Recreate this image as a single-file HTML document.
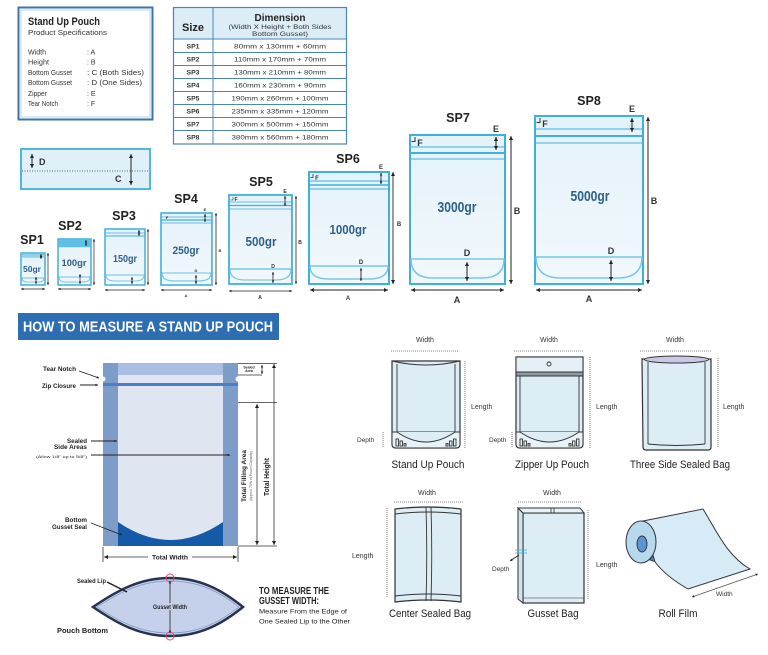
<!DOCTYPE html>
<html><head><meta charset="utf-8"><style>
html,body{margin:0;padding:0;background:#fff;}
svg{display:block;}
text{font-family:"Liberation Sans",Arial,sans-serif;}
</style></head><body>
<svg width="768" height="655" viewBox="0 0 768 655" xmlns="http://www.w3.org/2000/svg">
<defs>
<marker id="a" viewBox="0 0 10 10" refX="10" refY="5" markerWidth="4" markerHeight="4" markerUnits="userSpaceOnUse" orient="auto-start-reverse"><path d="M0,0 L10,5 L0,10 z" fill="#222"/></marker>
<marker id="s" viewBox="0 0 10 10" refX="10" refY="5" markerWidth="2.5" markerHeight="2.5" markerUnits="userSpaceOnUse" orient="auto-start-reverse"><path d="M0,0 L10,5 L0,10 z" fill="#222"/></marker>
<linearGradient id="pg" x1="0" y1="0" x2="0" y2="1"><stop offset="0" stop-color="#e4f2f9"/><stop offset="1" stop-color="#f1f8fc"/></linearGradient>
</defs>

<!-- Spec box -->
<rect x="18.5" y="7.5" width="134" height="112" fill="#fff" stroke="#3e74a6" stroke-width="2"/>
<rect x="21" y="10" width="129" height="107" fill="none" stroke="#b8d3e6" stroke-width="1"/>
<text x="28" y="25" font-size="11" font-weight="bold" fill="#222" textLength="72" lengthAdjust="spacingAndGlyphs">Stand Up Pouch</text>
<text x="28" y="35" font-size="7.5" fill="#333" textLength="79" lengthAdjust="spacingAndGlyphs">Product Specifications</text>
<g font-size="7" fill="#333">
<text x="28" y="54.5" textLength="18" lengthAdjust="spacingAndGlyphs">Width</text><text x="87" y="54.5">: A</text>
<text x="28" y="64.5" textLength="21" lengthAdjust="spacingAndGlyphs">Height</text><text x="87" y="64.5">: B</text>
<text x="28" y="75" textLength="44" lengthAdjust="spacingAndGlyphs">Bottom Gusset</text><text x="87" y="75" textLength="57" lengthAdjust="spacingAndGlyphs">: C (Both Sides)</text>
<text x="28" y="85" textLength="44" lengthAdjust="spacingAndGlyphs">Bottom Gusset</text><text x="87" y="85" textLength="55" lengthAdjust="spacingAndGlyphs">: D (One Sides)</text>
<text x="28" y="96" textLength="19" lengthAdjust="spacingAndGlyphs">Zipper</text><text x="87" y="96">: E</text>
<text x="28" y="106" textLength="30" lengthAdjust="spacingAndGlyphs">Tear Notch</text><text x="87" y="106">: F</text>
</g>

<!-- Table -->
<rect x="173" y="7" width="174" height="32" fill="#dcedf7"/>
<rect x="173.5" y="7.5" width="173" height="136.5" fill="none" stroke="#4a86b4" stroke-width="1.2"/>
<g stroke="#4a86b4" stroke-width="1">
<line x1="213" y1="7" x2="213" y2="144"/>
<line x1="173" y1="39" x2="347" y2="39"/>
<line x1="173" y1="52.5" x2="347" y2="52.5"/>
<line x1="173" y1="65.5" x2="347" y2="65.5"/>
<line x1="173" y1="78.5" x2="347" y2="78.5"/>
<line x1="173" y1="91.5" x2="347" y2="91.5"/>
<line x1="173" y1="104.5" x2="347" y2="104.5"/>
<line x1="173" y1="117.5" x2="347" y2="117.5"/>
<line x1="173" y1="130.5" x2="347" y2="130.5"/>
</g>
<text x="193" y="31" font-size="11" font-weight="bold" fill="#222" text-anchor="middle">Size</text>
<text x="280" y="21" font-size="10" font-weight="bold" fill="#222" text-anchor="middle" textLength="51" lengthAdjust="spacingAndGlyphs">Dimension</text>
<text x="280" y="29" font-size="6.5" fill="#333" text-anchor="middle" textLength="103" lengthAdjust="spacingAndGlyphs">(Width X Height + Both Sides</text>
<text x="280" y="36" font-size="6.5" fill="#333" text-anchor="middle" textLength="56" lengthAdjust="spacingAndGlyphs">Bottom Gusset)</text>
<g font-size="6.5" fill="#333" text-anchor="middle">
<text x="193" y="48.5" font-weight="bold" textLength="13" lengthAdjust="spacingAndGlyphs">SP1</text><text x="280" y="48.5" textLength="92" lengthAdjust="spacingAndGlyphs">80mm x 130mm + 60mm</text>
<text x="193" y="61.5" font-weight="bold" textLength="13" lengthAdjust="spacingAndGlyphs">SP2</text><text x="280" y="61.5" textLength="92" lengthAdjust="spacingAndGlyphs">110mm x 170mm + 70mm</text>
<text x="193" y="74.5" font-weight="bold" textLength="13" lengthAdjust="spacingAndGlyphs">SP3</text><text x="280" y="74.5" textLength="92" lengthAdjust="spacingAndGlyphs">130mm x 210mm + 80mm</text>
<text x="193" y="87.5" font-weight="bold" textLength="13" lengthAdjust="spacingAndGlyphs">SP4</text><text x="280" y="87.5" textLength="92" lengthAdjust="spacingAndGlyphs">160mm x 230mm + 90mm</text>
<text x="193" y="100.5" font-weight="bold" textLength="13" lengthAdjust="spacingAndGlyphs">SP5</text><text x="280" y="100.5" textLength="97" lengthAdjust="spacingAndGlyphs">190mm x 260mm + 100mm</text>
<text x="193" y="113.5" font-weight="bold" textLength="13" lengthAdjust="spacingAndGlyphs">SP6</text><text x="280" y="113.5" textLength="97" lengthAdjust="spacingAndGlyphs">235mm x 335mm + 120mm</text>
<text x="193" y="126.5" font-weight="bold" textLength="13" lengthAdjust="spacingAndGlyphs">SP7</text><text x="280" y="126.5" textLength="97" lengthAdjust="spacingAndGlyphs">300mm x 500mm + 150mm</text>
<text x="193" y="139.5" font-weight="bold" textLength="13" lengthAdjust="spacingAndGlyphs">SP8</text><text x="280" y="139.5" textLength="97" lengthAdjust="spacingAndGlyphs">380mm x 560mm + 180mm</text>
</g>

<!-- D/C box -->
<rect x="21" y="149" width="129" height="40" fill="#dff0f8" stroke="#4fb6dc" stroke-width="2"/>
<line x1="22" y1="171" x2="149" y2="171" stroke="#4a6a80" stroke-width="1" stroke-dasharray="1,1.5"/>
<line x1="32" y1="154" x2="32" y2="168" stroke="#222" stroke-width="1" marker-start="url(#a)" marker-end="url(#a)"/>
<text x="39" y="165" font-size="9" font-weight="bold" fill="#333">D</text>
<line x1="131" y1="154" x2="131" y2="185" stroke="#222" stroke-width="1" marker-start="url(#a)" marker-end="url(#a)"/>
<text x="115" y="182" font-size="9" font-weight="bold" fill="#333">C</text>

<!-- SP labels -->
<g font-size="12.5" font-weight="bold" fill="#222" text-anchor="middle">
<text x="32" y="244">SP1</text>
<text x="70" y="230">SP2</text>
<text x="124" y="220">SP3</text>
<text x="186" y="203">SP4</text>
<text x="261" y="186">SP5</text>
<text x="348" y="163">SP6</text>
<text x="458" y="122">SP7</text>
<text x="589" y="105">SP8</text>
</g>

<!-- SP1 -->
<rect x="21" y="253" width="24" height="32" fill="url(#pg)" stroke="#3fb0dc" stroke-width="1.5"/>
<rect x="21.7" y="253.7" width="22.6" height="4" fill="#8fd0ec"/>
<line x1="21" y1="278" x2="45" y2="278" stroke="#3fb0dc" stroke-width="0.8"/>
<path d="M22,278 Q22,282 27,282 L39,282 Q44,282 44,278" fill="none" stroke="#7cc6e4" stroke-width="1"/>
<text x="32" y="272" font-size="8.5" font-weight="bold" fill="#2e5f8a" text-anchor="middle" textLength="18" lengthAdjust="spacingAndGlyphs">50gr</text>
<g stroke="#222" stroke-width="0.7">
<line x1="41" y1="254" x2="41" y2="259" marker-start="url(#s)" marker-end="url(#s)"/>
<line x1="36" y1="277" x2="36" y2="284" marker-start="url(#s)" marker-end="url(#s)"/>
<line x1="48" y1="253" x2="48" y2="285" marker-start="url(#s)" marker-end="url(#s)"/>
<line x1="21" y1="289" x2="45" y2="289" marker-start="url(#s)" marker-end="url(#s)"/>
</g>

<!-- SP2 -->
<rect x="58" y="239" width="33" height="46" fill="url(#pg)" stroke="#3fb0dc" stroke-width="1.5"/>
<rect x="58.7" y="239.7" width="31.6" height="7.5" fill="#5fbfe5"/>
<line x1="58" y1="277" x2="91" y2="277" stroke="#3fb0dc" stroke-width="0.8"/>
<path d="M59,277 Q59,282 66,282 L83,282 Q90,282 90,277" fill="none" stroke="#7cc6e4" stroke-width="1"/>
<text x="74" y="266" font-size="9.5" font-weight="bold" fill="#2e5f8a" text-anchor="middle" textLength="25" lengthAdjust="spacingAndGlyphs">100gr</text>
<g stroke="#222" stroke-width="0.7">
<line x1="86" y1="240" x2="86" y2="246" marker-start="url(#s)" marker-end="url(#s)"/>
<line x1="80" y1="274" x2="80" y2="284" marker-start="url(#s)" marker-end="url(#s)"/>
<line x1="94" y1="239" x2="94" y2="285" marker-start="url(#s)" marker-end="url(#s)"/>
<line x1="58" y1="289" x2="91" y2="289" marker-start="url(#s)" marker-end="url(#s)"/>
</g>

<!-- SP3 -->
<rect x="105" y="229" width="40" height="56" fill="url(#pg)" stroke="#3fb0dc" stroke-width="1.5"/>
<line x1="105" y1="233" x2="145" y2="233" stroke="#3fb0dc" stroke-width="0.8"/>
<line x1="105" y1="236" x2="145" y2="236" stroke="#3fb0dc" stroke-width="1"/>
<line x1="105" y1="275" x2="145" y2="275" stroke="#3fb0dc" stroke-width="0.8"/>
<path d="M106,275 Q106,281 115,281 L135,281 Q144,281 144,275" fill="none" stroke="#7cc6e4" stroke-width="1"/>
<text x="125" y="262" font-size="10" font-weight="bold" fill="#2e5f8a" text-anchor="middle" textLength="24" lengthAdjust="spacingAndGlyphs">150gr</text>
<g stroke="#222" stroke-width="0.7">
<line x1="139" y1="230" x2="139" y2="236" marker-start="url(#s)" marker-end="url(#s)"/>
<line x1="132" y1="277" x2="132" y2="284" marker-start="url(#s)" marker-end="url(#s)"/>
<line x1="148" y1="229" x2="148" y2="285" marker-start="url(#s)" marker-end="url(#s)"/>
<line x1="105" y1="290" x2="145" y2="290" marker-start="url(#s)" marker-end="url(#s)"/>
</g>

<!-- SP4 -->
<rect x="161" y="213" width="51" height="72" fill="url(#pg)" stroke="#3fb0dc" stroke-width="1.6"/>
<line x1="161" y1="217" x2="212" y2="217" stroke="#3fb0dc" stroke-width="0.8"/>
<line x1="161" y1="220" x2="212" y2="220" stroke="#3fb0dc" stroke-width="1.2"/>
<line x1="161" y1="223" x2="212" y2="223" stroke="#3fb0dc" stroke-width="0.8"/>
<line x1="161" y1="273" x2="212" y2="273" stroke="#3fb0dc" stroke-width="0.8"/>
<path d="M162,273 Q162,281 174,281 L199,281 Q211,281 211,273" fill="none" stroke="#7cc6e4" stroke-width="1.2"/>
<text x="186" y="254" font-size="11" font-weight="bold" fill="#2e5f8a" text-anchor="middle" textLength="27" lengthAdjust="spacingAndGlyphs">250gr</text>
<g stroke="#222" stroke-width="0.8">
<line x1="205" y1="214" x2="205" y2="222" marker-start="url(#s)" marker-end="url(#s)"/>
<line x1="196" y1="275" x2="196" y2="284" marker-start="url(#s)" marker-end="url(#s)"/>
<line x1="216" y1="213" x2="216" y2="285" marker-start="url(#s)" marker-end="url(#s)"/>
<line x1="161" y1="290" x2="212" y2="290" marker-start="url(#s)" marker-end="url(#s)"/>
</g>
<g font-size="4" font-weight="bold" fill="#333" text-anchor="middle">
<text x="205" y="211">E</text><text x="196" y="272">D</text><text x="220" y="252">B</text><text x="186" y="297">A</text><text x="167" y="219">F</text>
</g>

<!-- SP5 -->
<rect x="229" y="195" width="63" height="89" fill="url(#pg)" stroke="#3fb0dc" stroke-width="1.8"/>
<line x1="229" y1="202" x2="292" y2="202" stroke="#3fb0dc" stroke-width="0.8"/>
<line x1="229" y1="205.5" x2="292" y2="205.5" stroke="#3fb0dc" stroke-width="1.3"/>
<line x1="229" y1="209" x2="292" y2="209" stroke="#3fb0dc" stroke-width="0.8"/>
<line x1="229" y1="269" x2="292" y2="269" stroke="#3fb0dc" stroke-width="0.9"/>
<path d="M230,269 Q230,280 245,280 L276,280 Q291,280 291,269" fill="none" stroke="#7cc6e4" stroke-width="1.3"/>
<text x="261" y="246" font-size="13" font-weight="bold" fill="#2e5f8a" text-anchor="middle" textLength="31" lengthAdjust="spacingAndGlyphs">500gr</text>
<path d="M233,197 V200 H230.5" fill="none" stroke="#333" stroke-width="0.6"/>
<g stroke="#222" stroke-width="0.8">
<line x1="285" y1="196" x2="285" y2="206" marker-start="url(#s)" marker-end="url(#s)"/>
<line x1="273" y1="272" x2="273" y2="283" marker-start="url(#s)" marker-end="url(#s)"/>
<line x1="296" y1="196" x2="296" y2="284" marker-start="url(#s)" marker-end="url(#s)"/>
<line x1="229" y1="291" x2="292" y2="291" marker-start="url(#s)" marker-end="url(#s)"/>
</g>
<g font-size="5" font-weight="bold" fill="#333" text-anchor="middle">
<text x="285" y="193">E</text><text x="273" y="268">D</text><text x="300" y="244">B</text><text x="260" y="299">A</text><text x="236" y="201">F</text>
</g>

<!-- SP6 -->
<rect x="309" y="172" width="80" height="112" fill="url(#pg)" stroke="#3fb0dc" stroke-width="2"/>
<line x1="309" y1="181" x2="389" y2="181" stroke="#3fb0dc" stroke-width="1"/>
<line x1="309" y1="185" x2="389" y2="185" stroke="#3fb0dc" stroke-width="1.5"/>
<line x1="309" y1="189" x2="389" y2="189" stroke="#3fb0dc" stroke-width="1"/>
<line x1="309" y1="266" x2="389" y2="266" stroke="#3fb0dc" stroke-width="1"/>
<path d="M310,266 Q310,279 329,279 L369,279 Q388,279 388,266" fill="none" stroke="#7cc6e4" stroke-width="1.5"/>
<text x="348" y="234" font-size="12.5" font-weight="bold" fill="#2e5f8a" text-anchor="middle" textLength="37" lengthAdjust="spacingAndGlyphs">1000gr</text>
<path d="M313,174 V177.5 H310.5" fill="none" stroke="#333" stroke-width="0.8"/>
<g stroke="#222" stroke-width="0.9">
<line x1="381" y1="173" x2="381" y2="184" marker-start="url(#s)" marker-end="url(#s)"/>
<line x1="361" y1="268" x2="361" y2="281" marker-start="url(#s)" marker-end="url(#s)"/>
<line x1="393" y1="172" x2="393" y2="284" marker-start="url(#a)" marker-end="url(#a)"/>
<line x1="310" y1="290" x2="388" y2="290" marker-start="url(#a)" marker-end="url(#a)"/>
</g>
<g font-size="6" font-weight="bold" fill="#333" text-anchor="middle">
<text x="381" y="169">E</text><text x="361" y="264">D</text><text x="399" y="226">B</text><text x="348" y="300">A</text><text x="317" y="180">F</text>
</g>

<!-- SP7 -->
<rect x="410" y="135" width="95" height="149" fill="url(#pg)" stroke="#3fb0dc" stroke-width="2"/>
<line x1="410" y1="147" x2="505" y2="147" stroke="#3fb0dc" stroke-width="1"/>
<line x1="410" y1="153" x2="505" y2="153" stroke="#3fb0dc" stroke-width="2"/>
<line x1="410" y1="159" x2="505" y2="159" stroke="#3fb0dc" stroke-width="1"/>
<line x1="410" y1="259" x2="505" y2="259" stroke="#3fb0dc" stroke-width="1"/>
<path d="M411,259 Q411,278 433,278 L482,278 Q504,278 504,259" fill="none" stroke="#7cc6e4" stroke-width="1.5"/>
<text x="457" y="212" font-size="15" font-weight="bold" fill="#2e5f8a" text-anchor="middle" textLength="39" lengthAdjust="spacingAndGlyphs">3000gr</text>
<path d="M415,137 V141.5 H411.5" fill="none" stroke="#333" stroke-width="1"/>
<g stroke="#222" stroke-width="1">
<line x1="496" y1="137" x2="496" y2="150" marker-start="url(#a)" marker-end="url(#a)"/>
<line x1="467" y1="262" x2="467" y2="281" marker-start="url(#a)" marker-end="url(#a)"/>
<line x1="511" y1="136" x2="511" y2="284" marker-start="url(#a)" marker-end="url(#a)"/>
<line x1="411" y1="290" x2="504" y2="290" marker-start="url(#a)" marker-end="url(#a)"/>
</g>
<g font-size="9" font-weight="bold" fill="#333" text-anchor="middle">
<text x="496" y="132">E</text><text x="467" y="256">D</text><text x="517" y="214">B</text><text x="457" y="303">A</text><text x="420" y="146">F</text>
</g>

<!-- SP8 -->
<rect x="535" y="116" width="108" height="168" fill="url(#pg)" stroke="#3fb0dc" stroke-width="2"/>
<line x1="535" y1="129" x2="643" y2="129" stroke="#3fb0dc" stroke-width="1"/>
<line x1="535" y1="136" x2="643" y2="136" stroke="#3fb0dc" stroke-width="2"/>
<line x1="535" y1="143" x2="643" y2="143" stroke="#3fb0dc" stroke-width="1"/>
<line x1="535" y1="257" x2="643" y2="257" stroke="#3fb0dc" stroke-width="1"/>
<path d="M536,257 Q536,278 561,278 L617,278 Q642,278 642,257" fill="none" stroke="#7cc6e4" stroke-width="1.5"/>
<text x="590" y="201" font-size="15" font-weight="bold" fill="#2e5f8a" text-anchor="middle" textLength="39" lengthAdjust="spacingAndGlyphs">5000gr</text>
<path d="M540,118 V122.5 H536.5" fill="none" stroke="#333" stroke-width="1"/>
<g stroke="#222" stroke-width="1">
<line x1="632" y1="118" x2="632" y2="132" marker-start="url(#a)" marker-end="url(#a)"/>
<line x1="611" y1="260" x2="611" y2="281" marker-start="url(#a)" marker-end="url(#a)"/>
<line x1="648" y1="117" x2="648" y2="284" marker-start="url(#a)" marker-end="url(#a)"/>
<line x1="536" y1="290" x2="642" y2="290" marker-start="url(#a)" marker-end="url(#a)"/>
</g>
<g font-size="9" font-weight="bold" fill="#333" text-anchor="middle">
<text x="632" y="112">E</text><text x="611" y="254">D</text><text x="654" y="204">B</text><text x="589" y="302">A</text><text x="545" y="127">F</text>
</g>

<!-- HOW TO banner -->
<rect x="18" y="313" width="261" height="27" fill="#2d6db2"/>
<text x="23" y="331.5" font-size="14.5" font-weight="bold" fill="#fff" textLength="250" lengthAdjust="spacingAndGlyphs">HOW TO MEASURE A STAND UP POUCH</text>

<!-- Measure diagram -->
<rect x="118" y="375" width="105" height="171" fill="#dfe5f1"/>
<rect x="118" y="363" width="105" height="12" fill="#aabee1"/>
<rect x="103" y="363" width="15" height="183" fill="#7e9cc8"/>
<rect x="223" y="363" width="15" height="183" fill="#7e9cc8"/>
<path d="M118,522 Q170,558 223,522 L223,546 L118,546 Z" fill="#155aa6"/>
<line x1="103" y1="384.5" x2="238" y2="384.5" stroke="#4a7fc4" stroke-width="3"/>
<circle cx="103" cy="379" r="2.5" fill="#fff"/>
<circle cx="238" cy="379" r="2.5" fill="#fff"/>
<g font-size="6.5" font-weight="bold" fill="#222">
<text x="43" y="371" textLength="33" lengthAdjust="spacingAndGlyphs">Tear Notch</text>
<text x="42" y="388" textLength="34" lengthAdjust="spacingAndGlyphs">Zip Closure</text>
<text x="87" y="443" text-anchor="end" textLength="20" lengthAdjust="spacingAndGlyphs">Sealed</text>
<text x="87" y="449" text-anchor="end" textLength="33" lengthAdjust="spacingAndGlyphs">Side Areas</text>
<text x="87" y="522" text-anchor="end" textLength="22" lengthAdjust="spacingAndGlyphs">Bottom</text>
<text x="87" y="529" text-anchor="end" textLength="35" lengthAdjust="spacingAndGlyphs">Gusset Seal</text>
</g>
<text x="87" y="458" font-size="4" fill="#222" text-anchor="end" textLength="51" lengthAdjust="spacingAndGlyphs">(Allow 1/8" up to 5/8")</text>
<g stroke="#222" stroke-width="0.9">
<line x1="79" y1="371" x2="99" y2="378" marker-end="url(#s)"/>
<line x1="80" y1="385" x2="98" y2="385" marker-end="url(#s)"/>
<line x1="91" y1="441" x2="117" y2="441" marker-end="url(#s)"/>
<line x1="91" y1="455" x2="230" y2="455" marker-end="url(#s)"/>
<line x1="91" y1="523" x2="122" y2="535" marker-end="url(#s)"/>
</g>
<g stroke="#333" stroke-width="0.8">
<line x1="238" y1="363.5" x2="277" y2="363.5"/>
<line x1="238" y1="375" x2="262" y2="375"/>
<line x1="238" y1="402.5" x2="277" y2="402.5"/>
<line x1="238" y1="546" x2="277" y2="546"/>
<line x1="262" y1="365" x2="262" y2="374" marker-start="url(#s)" marker-end="url(#s)"/>
<line x1="257" y1="404" x2="257" y2="545" marker-start="url(#a)" marker-end="url(#a)"/>
<line x1="274" y1="364" x2="274" y2="545" marker-start="url(#a)" marker-end="url(#a)"/>
</g>
<text x="249" y="368.5" font-size="3.5" font-weight="bold" fill="#222" text-anchor="middle">Sealed</text>
<text x="249" y="372" font-size="3.5" font-weight="bold" fill="#222" text-anchor="middle">Area</text>
<text transform="translate(246,476) rotate(-90)" font-size="6.5" font-weight="bold" fill="#222" text-anchor="middle" textLength="52" lengthAdjust="spacingAndGlyphs">Total Filling Area</text>
<text transform="translate(252,476) rotate(-90)" font-size="4" fill="#555" text-anchor="middle" textLength="50" lengthAdjust="spacingAndGlyphs">(Approx 75% of Pouch Capacity)</text>
<text transform="translate(269,477) rotate(-90)" font-size="7" font-weight="bold" fill="#222" text-anchor="middle" textLength="38" lengthAdjust="spacingAndGlyphs">Total Height</text>
<g stroke="#333" stroke-width="0.8">
<line x1="103" y1="547" x2="103" y2="562"/>
<line x1="238" y1="547" x2="238" y2="562"/>
<line x1="104" y1="557" x2="237" y2="557" marker-start="url(#a)" marker-end="url(#a)"/>
</g>
<rect x="148" y="553" width="44" height="8" fill="#fff"/>
<text x="170" y="559.5" font-size="6.5" font-weight="bold" fill="#222" text-anchor="middle" textLength="36" lengthAdjust="spacingAndGlyphs">Total Width</text>

<!-- Gusset lens -->
<path d="M93,607 C118,590 140,578 170,578 C200,578 222,590 243,607 C222,624 200,636 170,636 C140,636 118,624 93,607 Z" fill="#c5d1ea" stroke="#26324f" stroke-width="2.5"/>
<path d="M97,607 C120,592 141,581 170,581 C199,581 220,592 239,607 C220,622 199,633 170,633 C141,633 120,622 97,607 Z" fill="none" stroke="#8194bb" stroke-width="0.7"/>
<circle cx="170" cy="578" r="4" fill="none" stroke="#e0506a" stroke-width="1"/>
<circle cx="170" cy="636" r="4" fill="none" stroke="#e0506a" stroke-width="1"/>
<line x1="170" y1="581" x2="170" y2="633" stroke="#222" stroke-width="0.8" marker-start="url(#s)" marker-end="url(#s)"/>
<rect x="151" y="603" width="38" height="7" fill="#c5d1ea"/>
<text x="170" y="609" font-size="6" font-weight="bold" fill="#222" text-anchor="middle" textLength="34" lengthAdjust="spacingAndGlyphs">Gusset Width</text>
<text x="77" y="583" font-size="6" font-weight="bold" fill="#222" textLength="29" lengthAdjust="spacingAndGlyphs">Sealed Lip</text>
<line x1="107" y1="582" x2="127" y2="592" stroke="#222" stroke-width="1.5"/>
<text x="57" y="633" font-size="7" font-weight="bold" fill="#222" textLength="51" lengthAdjust="spacingAndGlyphs">Pouch Bottom</text>
<text x="259" y="594" font-size="10" font-weight="bold" fill="#222" textLength="70" lengthAdjust="spacingAndGlyphs">TO MEASURE THE</text>
<text x="259" y="604" font-size="10" font-weight="bold" fill="#222" textLength="60" lengthAdjust="spacingAndGlyphs">GUSSET WIDTH:</text>
<text x="259" y="613.5" font-size="6.5" fill="#222" textLength="88" lengthAdjust="spacingAndGlyphs">Measure From the Edge of</text>
<text x="259" y="623.5" font-size="6.5" fill="#222" textLength="91" lengthAdjust="spacingAndGlyphs">One Sealed Lip to the Other</text>

<!-- Right icons common styles -->
<g font-size="7" fill="#333" text-anchor="middle">
<text x="425" y="342">Width</text>
<text x="549" y="342">Width</text>
<text x="675" y="342">Width</text>
<text x="427" y="495">Width</text>
<text x="552" y="495">Width</text>
</g>
<g font-size="7" fill="#333">
<text x="471" y="409">Length</text>
<text x="596" y="409">Length</text>
<text x="723" y="409">Length</text>
<text x="352" y="558">Length</text>
<text x="596" y="567">Length</text>
<text x="357" y="442" font-size="6.5">Depth</text>
<text x="489" y="442" font-size="6.5">Depth</text>
<text x="492" y="571" font-size="6.5">Depth</text>
</g>
<g stroke="#555" stroke-width="0.8" stroke-dasharray="1,1" fill="none">
<line x1="391" y1="351" x2="459" y2="351"/>
<line x1="514" y1="351" x2="583" y2="351"/>
<line x1="640" y1="351" x2="712" y2="351"/>
<line x1="394" y1="502" x2="463" y2="502"/>
<line x1="518" y1="502" x2="582" y2="502"/>
<line x1="465" y1="361" x2="465" y2="448"/>
<line x1="590" y1="357" x2="590" y2="448"/>
<line x1="718" y1="358" x2="718" y2="448"/>
<line x1="383" y1="432" x2="383" y2="448"/>
<line x1="512" y1="432" x2="512" y2="448"/>
<line x1="387" y1="508" x2="387" y2="598"/>
<line x1="588" y1="510" x2="588" y2="600"/>
</g>

<!-- Stand Up Pouch icon -->
<path d="M392,361 L392,444 Q392,448 396,448 L456,448 Q460,448 460,444 L460,361 Z" fill="#dcedf5" stroke="#333" stroke-width="1.2"/>
<path d="M392,361 Q426,369 460,361" fill="none" stroke="#333" stroke-width="1"/>
<path d="M392,432 L460,432 L460,444 Q460,448 456,448 L396,448 Q392,448 392,444 Z" fill="#e8f2f7" stroke="#333" stroke-width="1"/>
<path d="M397,432 Q426,452 455,432" fill="#dcedf5" stroke="#333" stroke-width="1"/>
<g stroke="#333" stroke-width="0.9" fill="none">
<line x1="397" y1="364" x2="397" y2="432"/>
<line x1="455" y1="364" x2="455" y2="432"/>
<rect x="396" y="439" width="2.5" height="7"/><rect x="400" y="441" width="2.5" height="5"/><rect x="404" y="443.5" width="2" height="2.5"/>
<rect x="453.5" y="439" width="2.5" height="7"/><rect x="449.5" y="441" width="2.5" height="5"/><rect x="446" y="443.5" width="2" height="2.5"/>
</g>
<text x="428" y="468" font-size="11" fill="#222" text-anchor="middle" textLength="73" lengthAdjust="spacingAndGlyphs">Stand Up Pouch</text>

<!-- Zipper Up Pouch -->
<path d="M516,357 L516,444 Q516,448 520,448 L579,448 Q583,448 583,444 L583,357 Z" fill="#dcedf5" stroke="#333" stroke-width="1.2"/>
<rect x="516" y="357" width="67" height="15" fill="#e4f0f6" stroke="#333" stroke-width="1"/>
<circle cx="549" cy="364" r="2" fill="none" stroke="#333" stroke-width="0.9"/>
<rect x="516" y="372" width="67" height="4" fill="#8a9ba3" stroke="#333" stroke-width="1"/>
<path d="M516,432 L583,432 L583,444 Q583,448 579,448 L520,448 Q516,448 516,444 Z" fill="#e8f2f7" stroke="#333" stroke-width="1"/>
<path d="M520,432 Q549.5,452 579,432" fill="#dcedf5" stroke="#333" stroke-width="1"/>
<g stroke="#333" stroke-width="0.9" fill="none">
<line x1="520" y1="376" x2="520" y2="432"/>
<line x1="579" y1="376" x2="579" y2="432"/>
<rect x="520" y="439" width="2.5" height="7"/><rect x="524" y="441" width="2.5" height="5"/><rect x="528" y="443.5" width="2" height="2.5"/>
<rect x="576.5" y="439" width="2.5" height="7"/><rect x="572.5" y="441" width="2.5" height="5"/><rect x="569" y="443.5" width="2" height="2.5"/>
</g>
<text x="552" y="468" font-size="11" fill="#222" text-anchor="middle" textLength="74" lengthAdjust="spacingAndGlyphs">Zipper Up Pouch</text>

<!-- Three Side Sealed Bag -->
<path d="M642,359 L643,447 Q643,450 646,450 L708,450 Q711,450 711,447 L711,359 Z" fill="#dcedf5" stroke="#333" stroke-width="1.2"/>
<ellipse cx="676.5" cy="359.5" rx="32" ry="3.5" fill="#c9c9e6" stroke="#333" stroke-width="1"/>
<g stroke="#333" stroke-width="0.9" fill="none">
<line x1="648" y1="362" x2="648" y2="444"/>
<line x1="705" y1="362" x2="705" y2="444"/>
<path d="M648,444 Q676,447 705,444"/>
</g>
<text x="680" y="468" font-size="11" fill="#222" text-anchor="middle" textLength="100" lengthAdjust="spacingAndGlyphs">Three Side Sealed Bag</text>

<!-- Center Sealed Bag -->
<path d="M395,509 Q428,505 461,509 L461,602 Q428,598 395,602 Z" fill="#dcedf5" stroke="#333" stroke-width="1.2"/>
<g stroke="#333" stroke-width="0.9" fill="none">
<path d="M395,514 Q428,510 461,514"/>
<path d="M395,596 Q428,592 461,596"/>
<path d="M426,507 Q427.5,555 426,601"/>
<path d="M431,507 Q432.5,555 431,601"/>
</g>
<text x="430" y="617" font-size="11" fill="#222" text-anchor="middle" textLength="82" lengthAdjust="spacingAndGlyphs">Center Sealed Bag</text>

<!-- Gusset Bag -->
<rect x="523" y="513" width="61" height="90" fill="#dcedf5" stroke="#333" stroke-width="1.2"/>
<polygon points="518,508 523,513 523,603 518,599" fill="#cfe4ee" stroke="#333" stroke-width="1"/>
<polygon points="518,508 580,508 584,513 523,513" fill="#e6f2f7" stroke="#333" stroke-width="1"/>
<line x1="551" y1="508" x2="551" y2="513" stroke="#333" stroke-width="0.8"/>
<line x1="554" y1="508" x2="554" y2="513" stroke="#333" stroke-width="0.8"/>
<line x1="523" y1="598" x2="584" y2="598" stroke="#333" stroke-width="0.6"/>
<line x1="515" y1="550" x2="527" y2="550" stroke="#3fb0dc" stroke-width="0.8"/>
<line x1="515" y1="553" x2="527" y2="553" stroke="#3fb0dc" stroke-width="0.8"/>
<line x1="519" y1="555" x2="510" y2="561" stroke="#222" stroke-width="0.9" marker-end="url(#s)"/>
<text x="553" y="617" font-size="11" fill="#222" text-anchor="middle" textLength="51" lengthAdjust="spacingAndGlyphs">Gusset Bag</text>

<!-- Roll Film -->
<path d="M650,560 L665,535 L668,566 Z" fill="#4a8cc8" stroke="#333" stroke-width="0.8"/>
<path d="M643,521 L703,509 C716,530 727,556 750,569 L688,589 C672,580 662,571 655,562 Z" fill="#d6ebf6" stroke="#333" stroke-width="1"/>
<ellipse cx="641" cy="542" rx="15" ry="21" fill="#b7d9ee" stroke="#333" stroke-width="1"/>
<ellipse cx="642" cy="544" rx="5" ry="8" fill="#5b95cf" stroke="#333" stroke-width="0.9"/>
<line x1="692" y1="597" x2="758" y2="574" stroke="#555" stroke-width="0.9" marker-start="url(#s)" marker-end="url(#s)"/>
<text x="716" y="596" font-size="6.5" fill="#333">Width</text>
<text x="678" y="617" font-size="11" fill="#222" text-anchor="middle" textLength="39" lengthAdjust="spacingAndGlyphs">Roll Film</text>
</svg>
</body></html>
